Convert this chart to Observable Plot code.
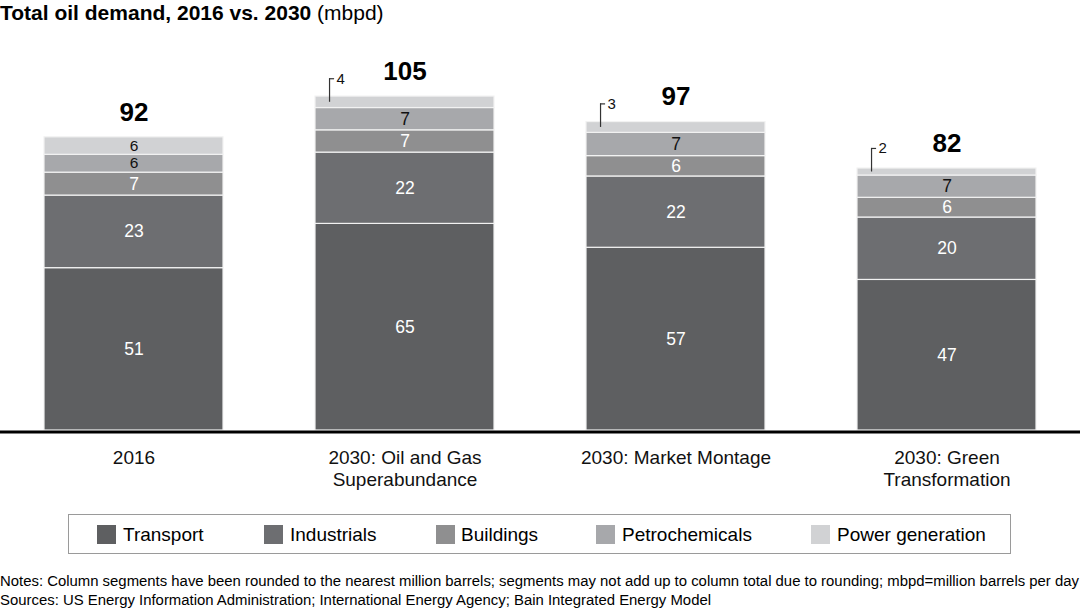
<!DOCTYPE html>
<html>
<head>
<meta charset="utf-8">
<script src="https://cdn.jsdelivr.net/npm/d3@7"></script>
<script src="https://cdn.jsdelivr.net/npm/@observablehq/plot@0.6"></script>
<style>
  html, body { margin: 0; padding: 0; background: #fff; }
  body { width: 1080px; height: 612px; position: relative; overflow: hidden; font-family: "Liberation Sans", Arial, sans-serif; color: #000; }
  #title { position: absolute; left: 0; top: 0px; font-size: 21px; line-height: 26px; white-space: nowrap; }
  #title b { font-weight: bold; }
  #chart { position: absolute; left: 0; top: 30px; }
  #legend { position: absolute; left: 68px; top: 514px; width: 943px; height: 40px; border: 1px solid #9a9a9a; box-sizing: border-box; }
  .item { position: absolute; top: 10px; height: 19px; font-size: 19px; line-height: 19px; white-space: nowrap; }
  .sw { position: absolute; left: 0; top: 0; width: 19px; height: 19px; }
  .lab { position: absolute; top: 0; white-space: nowrap; }
  #notes { position: absolute; left: 0; top: 572px; font-size: 14.9px; line-height: 19px; white-space: nowrap; }
</style>
</head>
<body>
<div id="title"><b>Total oil demand, 2016 vs. 2030</b> (mbpd)</div>
<div id="chart"></div>
<div id="legend"></div>
<div id="notes">Notes: Column segments have been rounded to the nearest million barrels; segments may not add up to column total due to rounding; mbpd=million barrels per day<br>Sources: US Energy Information Administration; International Energy Agency; Bain Integrated Energy Model</div>
<script>
// ---- data (mbpd) ----
const categories = ["2016", "2030: Oil and Gas Superabundance", "2030: Market Montage", "2030: Green Transformation"];
const categoryLabels = ["2016", "2030: Oil and Gas\nSuperabundance", "2030: Market Montage", "2030: Green\nTransformation"];
const sectors = ["Transport", "Industrials", "Buildings", "Petrochemicals", "Power generation"];
const transport = [51.0, 64.9, 57.4, 47.3];
const industrials = [22.8, 22.4, 22.4, 19.6];
const buildings = [7.2, 7.0, 6.4, 6.2];
const petrochemicals = [5.6, 7.0, 7.3, 7.0];
const powerGeneration = [5.5, 3.6, 3.4, 2.2];
const totals = [92, 105, 97, 82];
const sectorColors = ["#5e5f61", "#6d6e71", "#8f8f90", "#a7a8ab", "#d1d2d4"];
const labelColors = ["#ffffff", "#ffffff", "#ffffff", "#111111", "#111111"];

const series = [transport, industrials, buildings, petrochemicals, powerGeneration];
const rows = [];
categories.forEach((cat, i) => {
  let base = 0;
  sectors.forEach((s, j) => {
    const v = series[j][i];
    rows.push({cat, sector: s, value: v, base, inside: v >= 5, label: String(Math.round(v)), labelColor: labelColors[j]});
    base += v;
  });
});
const callouts = rows.filter(r => !r.inside).map(r => ({cat: r.cat, y1: r.base + r.value / 2, y2: r.base + r.value / 2 + 7.4, label: r.label}));
const totalRows = categories.map((cat, i) => ({cat, total: totals[i], top: series.reduce((a, s) => a + s[i], 0)}));

const W = 1080, H = 470, mTop = 18, mBottom = 70;
const padIn = 0.34, padOut = 0.162;
const step = W / (categories.length - padIn + 2 * padOut);
const bw = step * (1 - padIn);
const lead = 14;

const plot = Plot.plot({
  width: W,
  height: H,
  marginTop: mTop,
  marginBottom: mBottom,
  marginLeft: 0,
  marginRight: 0,
  style: {fontFamily: "Liberation Sans, Arial, sans-serif", background: "transparent"},
  x: {domain: categories, paddingInner: padIn, paddingOuter: padOut, axis: null},
  y: {domain: [0, 120], axis: null},
  color: {domain: sectors, range: sectorColors},
  marks: [
    Plot.barY(rows, {x: "cat", y: "value", fill: "sector", stroke: "#f2f2f2", strokeWidth: 1.2}),
    Plot.text(rows, Plot.stackY({x: "cat", y: "value", text: d => d.inside && d.value >= 6 ? d.label : "", fill: d => d.labelColor, fontSize: 17.5})),
    Plot.text(rows, Plot.stackY({x: "cat", y: "value", text: d => d.inside && d.value < 6 ? d.label : "", fill: d => d.labelColor, fontSize: 15.5, lineHeight: 0.9})),
    Plot.ruleX(callouts, {x: "cat", y1: "y1", y2: "y2", dx: -bw / 2 + lead, stroke: "#333", strokeWidth: 1.2}),
    Plot.tickY(callouts, {x: "cat", y: "y2", insetLeft: lead, insetRight: bw - lead - 5, stroke: "#333", strokeWidth: 1.2}),
    Plot.text(callouts, {x: "cat", y: "y2", text: "label", dx: -bw / 2 + lead + 7, textAnchor: "start", fontSize: 15, fill: "#111"}),
    Plot.text(totalRows, {x: "cat", y: "top", text: d => String(d.total), dy: -25, fontSize: 26, fontWeight: "bold", fill: "#000"}),
    Plot.ruleY([0], {stroke: "#000", strokeWidth: 3, dy: 1.5}),
    Plot.text(categories, {x: d => d, y: () => 0, text: d => categoryLabels[categories.indexOf(d)], dy: 17, lineAnchor: "top", lineHeight: 1.2, fontSize: 19, fill: "#111"})
  ]
});
document.getElementById("chart").appendChild(plot);

// legend
const legendPos = [[28, 54], [195, 221], [367, 392], [527, 553], [742, 768]];
const legend = document.getElementById("legend");
sectors.forEach((s, j) => {
  const it = document.createElement("div");
  it.className = "item";
  it.style.left = legendPos[j][0] + "px";
  it.innerHTML = `<span class="sw" style="background:${sectorColors[j]}"></span><span class="lab" style="left:${legendPos[j][1] - legendPos[j][0]}px">${s}</span>`;
  legend.appendChild(it);
});
</script>
</body>
</html>
